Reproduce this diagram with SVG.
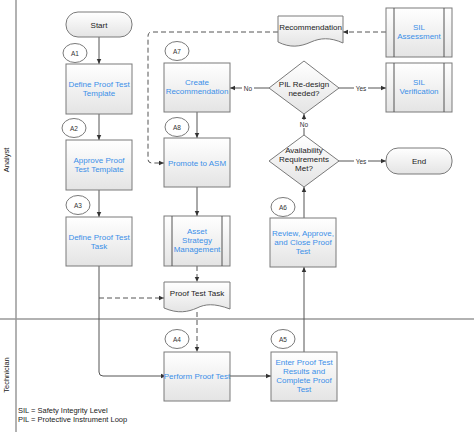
<svg xmlns="http://www.w3.org/2000/svg" width="474" height="432" viewBox="0 0 474 432">
<defs>
<linearGradient id="g" x1="0" y1="0" x2="0" y2="1"><stop offset="0" stop-color="#ffffff"/><stop offset="1" stop-color="#e4e4e4"/></linearGradient>
<marker id="ah" viewBox="0 0 10 10" refX="9" refY="5" markerWidth="6" markerHeight="6" orient="auto"><path d="M0,1 L9,5 L0,9 z" fill="#333"/></marker>
</defs>
<style>
.bx{fill:url(#g);stroke:#7a7a7a;stroke-width:1}
.tb{font-family:"Liberation Sans",Arial,sans-serif;font-size:8px;fill:#3b8fe8;text-anchor:middle}
.tk{font-family:"Liberation Sans",Arial,sans-serif;font-size:8px;fill:#222;text-anchor:middle}
.ts{font-family:"Liberation Sans",Arial,sans-serif;font-size:6.5px;fill:#333;text-anchor:middle}
.lg{font-family:"Liberation Sans",Arial,sans-serif;font-size:7.5px;fill:#222}
.cl{fill:#fff;stroke:#7a7a7a;stroke-width:1}
.c{fill:none;stroke:#555;stroke-width:1}
.d{fill:none;stroke:#555;stroke-width:1;stroke-dasharray:5,3}
.ln{stroke:#999;stroke-width:1.5;fill:none}
</style>
<g id="lanes">
<line class="ln" x1="16" y1="0" x2="16" y2="432"/>
<line class="ln" x1="0" y1="319" x2="474" y2="319"/>
<text class="lg" transform="translate(9,160) rotate(-90)" text-anchor="middle">Analyst</text>
<text class="lg" transform="translate(9,375) rotate(-90)" text-anchor="middle">Technician</text>
</g>
<g id="connectors">
<line class="c" x1="99" y1="37" x2="99" y2="64" marker-end="url(#ah)"/>
<line class="c" x1="99" y1="114" x2="99" y2="140" marker-end="url(#ah)"/>
<line class="c" x1="99" y1="190" x2="99" y2="217" marker-end="url(#ah)"/>
<path class="c" d="M99,266 V372 Q99,376 103,376 H166" marker-end="url(#ah)"/>
<path class="d" d="M99,298 H164" marker-end="url(#ah)"/>
<line class="c" x1="197" y1="112" x2="197" y2="138" marker-end="url(#ah)"/>
<line class="c" x1="197" y1="187" x2="197" y2="216" marker-end="url(#ah)"/>
<line class="d" x1="197" y1="266" x2="197" y2="282" marker-end="url(#ah)"/>
<line class="d" x1="197" y1="312" x2="197" y2="352" marker-end="url(#ah)"/>
<line class="c" x1="230" y1="376" x2="271" y2="376" marker-end="url(#ah)"/>
<line class="c" x1="304" y1="352" x2="304" y2="267" marker-end="url(#ah)"/>
<line class="c" x1="304" y1="218" x2="304" y2="187" marker-end="url(#ah)"/>
<path class="c" d="M338,161 H386" marker-end="url(#ah)"/>
<path class="c" d="M304,135 V114" marker-end="url(#ah)"/>
<path class="c" d="M269,88 H230" marker-end="url(#ah)"/>
<path class="c" d="M338,88 H386" marker-end="url(#ah)"/>
<path class="d" d="M386,32 H343" marker-end="url(#ah)"/>
<path class="d" d="M278,32 H152 Q148,32 148,36 V159 Q148,163 152,163 H164" marker-end="url(#ah)"/>
<rect x="354" y="157" width="14" height="8" fill="#fff"/>
<text class="ts" x="361" y="163.5">Yes</text>
<rect x="354" y="84" width="14" height="8" fill="#fff"/>
<text class="ts" x="361" y="90.5">Yes</text>
<rect x="242" y="84" width="12" height="8" fill="#fff"/>
<text class="ts" x="248" y="90.5">No</text>
<rect x="298" y="120" width="12" height="8" fill="#fff"/>
<text class="ts" x="304" y="126.5">No</text>
</g>
<g id="start"><rect class="bx" x="66" y="12" width="66" height="25" rx="12"/><text class="tk" x="99" y="27.5">Start</text></g>
<g id="a1"><rect class="bx" x="66" y="64" width="66" height="50"/><text class="tb" x="99" y="87">Define Proof Test</text><text class="tb" x="99" y="96">Template</text>
<ellipse class="cl" cx="75" cy="53" rx="12" ry="9.5"/><text class="ts" x="75" y="55.5">A1</text></g>
<g id="a2"><rect class="bx" x="66" y="140" width="66" height="50"/><text class="tb" x="99" y="163">Approve Proof</text><text class="tb" x="99" y="172">Test Template</text>
<ellipse class="cl" cx="74" cy="128" rx="12" ry="9.5"/><text class="ts" x="74" y="130.5">A2</text></g>
<g id="a3"><rect class="bx" x="66" y="217" width="66" height="49"/><text class="tb" x="99" y="240">Define Proof Test</text><text class="tb" x="99" y="249">Task</text>
<ellipse class="cl" cx="78" cy="205" rx="12" ry="9.5"/><text class="ts" x="78" y="207.5">A3</text></g>
<g id="a7"><rect class="bx" x="164" y="63" width="66" height="49"/><text class="tb" x="197" y="85">Create</text><text class="tb" x="197" y="94">Recommendation</text>
<ellipse class="cl" cx="177" cy="51" rx="12" ry="9.5"/><text class="ts" x="177" y="53.5">A7</text></g>
<g id="a8"><rect class="bx" x="164" y="138" width="66" height="49"/><text class="tb" x="197" y="165.5">Promote to ASM</text>
<ellipse class="cl" cx="177" cy="127" rx="12" ry="9.5"/><text class="ts" x="177" y="129.5">A8</text></g>
<g id="asm"><rect class="bx" x="164" y="216" width="66" height="50"/><line class="c" x1="172" y1="216" x2="172" y2="266"/><line class="c" x1="222" y1="216" x2="222" y2="266"/>
<text class="tb" x="197" y="234">Asset</text><text class="tb" x="197" y="243">Strategy</text><text class="tb" x="197" y="252">Management</text></g>
<g id="ptt"><path class="bx" d="M164,282 H230 V309 C214,303 205,304 197,308 C188,312 178,314 164,308 Z"/><text class="tk" x="197" y="296">Proof Test Task</text></g>
<g id="a4"><rect class="bx" x="164" y="352" width="66" height="49"/><text class="tb" x="197" y="378.5">Perform Proof Test</text>
<ellipse class="cl" cx="177" cy="339" rx="12" ry="9.5"/><text class="ts" x="177" y="341.5">A4</text></g>
<g id="a5"><rect class="bx" x="271" y="352" width="66" height="49"/><text class="tb" x="304" y="365">Enter Proof Test</text><text class="tb" x="304" y="374">Results and</text><text class="tb" x="304" y="383">Complete Proof</text><text class="tb" x="304" y="392">Test</text>
<ellipse class="cl" cx="283" cy="339" rx="12" ry="9.5"/><text class="ts" x="283" y="341.5">A5</text></g>
<g id="a6"><rect class="bx" x="270" y="218" width="66" height="49"/><text class="tb" x="303" y="236">Review, Approve,</text><text class="tb" x="303" y="245">and Close Proof</text><text class="tb" x="303" y="254">Test</text>
<ellipse class="cl" cx="283" cy="207" rx="12" ry="9.5"/><text class="ts" x="283" y="209.5">A6</text></g>
<g id="avail"><path class="bx" d="M304,135 L339,161 L304,187 L269,161 Z"/><text class="tk" x="304" y="153">Availability</text><text class="tk" x="304" y="162">Requirements</text><text class="tk" x="304" y="171">Met?</text></g>
<g id="end"><rect class="bx" x="386" y="148" width="66" height="26" rx="12"/><text class="tk" x="419" y="164">End</text></g>
<g id="pil"><path class="bx" d="M304,61 L339,88 L304,114 L269,88 Z"/><text class="tk" x="304" y="87">PIL Re-design</text><text class="tk" x="304" y="96">needed?</text></g>
<g id="silv"><rect class="bx" x="386" y="63" width="66" height="49"/><line class="c" x1="394" y1="63" x2="394" y2="112"/><line class="c" x1="444" y1="63" x2="444" y2="112"/>
<text class="tb" x="419" y="85">SIL</text><text class="tb" x="419" y="94">Verification</text></g>
<g id="sila"><rect class="bx" x="386" y="8" width="66" height="49"/><line class="c" x1="394" y1="8" x2="394" y2="57"/><line class="c" x1="444" y1="8" x2="444" y2="57"/>
<text class="tb" x="419" y="30">SIL</text><text class="tb" x="419" y="39">Assessment</text></g>
<g id="rec"><path class="bx" d="M278,16 H343 V43 C330,37 320,38 311,42 C300,47 290,48 278,42 Z"/><text class="tk" x="310.5" y="30">Recommendation</text></g>
<g id="legend"><text class="lg" x="18" y="413">SIL = Safety Integrity Level</text><text class="lg" x="18" y="422">PIL = Protective Instrument Loop</text></g>
</svg>
